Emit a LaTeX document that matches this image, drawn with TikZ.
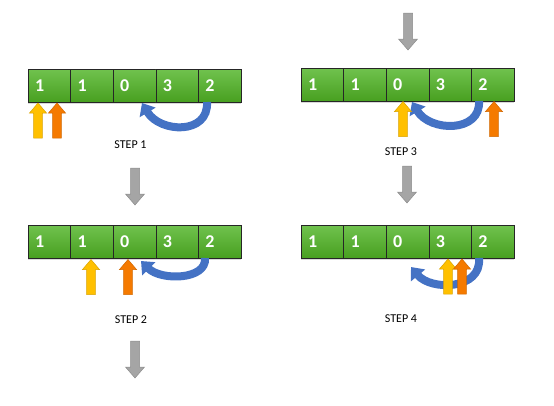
\documentclass[tikz,border=0pt]{standalone}
\usepackage{fontspec}
\setmainfont{Carlito}
\usepackage{xcolor}
\usetikzlibrary{arrows.meta,positioning,calc,shadows}
\definecolor{celltop}{RGB}{112,194,78}
\definecolor{cellbottom}{RGB}{72,160,32}
\definecolor{bendblue}{RGB}{68,114,196}
\definecolor{ptyellow}{RGB}{255,192,0}
\definecolor{ptorange}{RGB}{245,122,0}
\definecolor{ptgray}{RGB}{165,165,165}
\tikzset{cell/.style={
  % The shape:
  rectangle,
  % The size:
  minimum height=33pt, text width=28.6pt, inner xsep=7pt, inner ysep=0pt, outer sep=0pt,
  % The border:
  draw=black!85, line width=0.6pt,
  % The filling:
  top color=celltop, bottom color=cellbottom,
  drop shadow={shadow xshift=0pt, shadow yshift=-1.5pt, opacity=0.3},
  % Font:
  font=\bfseries\fontsize{18}{20}\selectfont, text=white, align=left,
  }
}
\tikzset{steplabel/.style={
  % The rest
  inner sep=0pt, anchor=base,
  font=\fontsize{12}{14}\selectfont,
  }
}
\tikzset{
  pics/up pointer/.style={code={
    \filldraw[fill=#1, draw=#1!85!black, line width=0.5pt]
      (0,0) -- (8.5,10) -- (4.3,10) -- (4.3,35) -- (-4.3,35) -- (-4.3,10) -- (-8.5,10) -- cycle;
  }},
  pics/down pointer/.style={code={
    \filldraw[fill=ptgray, draw=ptgray!85!black, line width=0.5pt]
      (0,0) -- (9.5,-11) -- (4.5,-11) -- (4.5,-37) -- (-4.5,-37) -- (-4.5,-11) -- (-9.5,-11) -- cycle;
  }},
}

\begin{document}
\begin{tikzpicture}[x=1pt,y=-1pt,
    bend arrow/.style={draw=bendblue, line width=8pt,
      -{Triangle[width=18pt,length=11pt]}}]
  \useasboundingbox (0,0) rectangle (554,405);

  % The four arrays:
  \foreach \s/\x/\y in {1/28/69, 2/28/225, 3/301/68, 4/301/225}{
    \node (s\s-1) [cell, anchor=north west] at (\x,\y) {1};
    \node (s\s-2) [cell, right=0pt of s\s-1] {1};
    \node (s\s-3) [cell, right=0pt of s\s-2] {0};
    \node (s\s-4) [cell, right=0pt of s\s-3] {3};
    \node (s\s-5) [cell, right=0pt of s\s-4] {2};
  }

  % Labels:
  \node (lab1) [steplabel] at (130.5,148) {STEP 1};
  \node (lab2) [steplabel] at (131,323) {STEP 2};
  \node (lab3) [steplabel] at (401,155) {STEP 3};
  \node (lab4) [steplabel] at (401,322) {STEP 4};

  % Curved arrows:
  \draw[bend arrow] ($(s1-5.south west)+(8.6,0)$) .. controls +(2,33) and +(18,30) .. ($(s1-3.south west)+(28.8,1)$);
  \draw[bend arrow] ($(s2-5.south west)+(6.6,0)$) .. controls +(2,22) and +(20,20) .. ($(s2-3.south west)+(27.8,3)$);
  \draw[bend arrow] ($(s3-5.south west)+(7.6,0)$) .. controls +(2,32) and +(18,30) .. ($(s3-3.south west)+(25.8,1)$);
  \draw[bend arrow] ($(s4-5.south west)+(7.6,0)$) .. controls +(3,32) and +(20,24) .. ($(s4-3.south west)+(24.8,9)$);

  % Pointers:
  \pic at ($(s1-1.south west)+(10,1)$) {up pointer=ptyellow};
  \pic at ($(s1-1.south west)+(29,1)$) {up pointer=ptorange};
  \pic at ($(s2-2.south west)+(20.4,1.5)$) {up pointer=ptyellow};
  \pic at ($(s2-3.south west)+(14.8,1.5)$) {up pointer=ptorange};
  \pic at ($(s3-3.south west)+(16.8,0.5)$) {up pointer=ptyellow};
  \pic at ($(s3-5.south west)+(22.6,0.5)$) {up pointer=ptorange};
  \pic at ($(s4-4.south west)+(19.2,1)$) {up pointer=ptyellow};
  \pic at ($(s4-4.south west)+(33.2,1)$) {up pointer=ptorange};

  % Step arrows:
  \pic at (135,205) {down pointer};
  \pic at (135,378) {down pointer};
  \pic at (408,50) {down pointer};
  \pic at (407,203) {down pointer};
\end{tikzpicture}
\end{document}
